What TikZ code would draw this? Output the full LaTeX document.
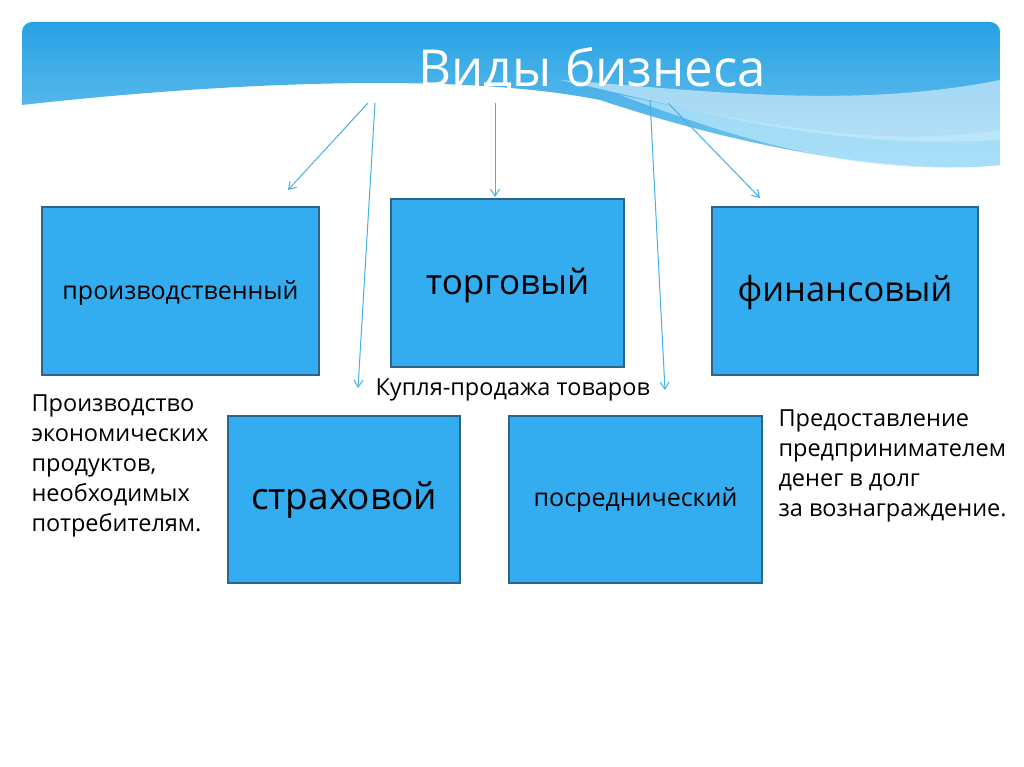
\documentclass[tikz,border=0pt]{standalone}
\usepackage{fontspec}
\usetikzlibrary{arrows.meta}
\setmainfont{Open Sans}
\definecolor{boxf}{RGB}{51,172,240}
\definecolor{boxd}{RGB}{45,100,135}
\definecolor{ban}{RGB}{38,162,228}
\definecolor{arc}{RGB}{70,175,230}
\begin{document}
\begin{tikzpicture}[x=1pt,y=-1pt,
 bx/.style={draw=boxd,line width=1.2pt,fill=boxf},
 ar/.style={draw=arc,line width=1pt,-{Straight Barb[length=7pt,width=9pt]}},
 tx/.style={anchor=west,font=\fontsize{23.5}{30}\selectfont,align=left}]
\useasboundingbox (0,0) rectangle (1024,767);
\fill[white] (0,0) rectangle (1024,767);
% banner
\shade[top color=ban,bottom color=ban!60!white] (22,32) arc(180:270:10) -- (990,22) arc(270:360:10) -- (1000,165)
  .. controls (900,175) and (750,150) .. (600,100) .. controls (450,70) and (200,85) .. (22,105) -- cycle;
\fill[white,opacity=0.5] (1000,80) .. controls (850,110) and (700,90) .. (560,80)
  .. controls (700,110) and (820,150) .. (1000,140) -- cycle;
\fill[cyan!25!white,opacity=0.7] (1000,130) .. controls (870,150) and (740,120) .. (620,95)
  .. controls (740,140) and (860,178) .. (1000,165) -- cycle;
\node[text=white,font=\fontsize{51}{56}\selectfont] (t) at (592,72) {Виды бизнеса};
\node[bx,minimum width=277,minimum height=168] (b1) at (180.5,291) {};
\node[font=\fontsize{25}{28}\selectfont] at (180.5,293) {производственный};
\node[bx,minimum width=233,minimum height=168] (b2) at (507.5,283) {};
\node[font=\fontsize{35}{38}\selectfont] at (507.5,285) {торговый};
\node[bx,minimum width=266,minimum height=168] (b3) at (845,291) {};
\node[font=\fontsize{34.5}{38}\selectfont] at (845,293) {финансовый};
\node[bx,minimum width=232,minimum height=167] (b4) at (344,499.5) {};
\node[font=\fontsize{37}{40}\selectfont] at (344,500) {страховой};
\node[bx,minimum width=253,minimum height=167] (b5) at (635.5,499.5) {};
\node[font=\fontsize{25}{28}\selectfont] at (635.5,500) {посреднический};
\coordinate (s1) at (368,103); \coordinate (s2) at (375,103); \coordinate (s3) at (495,103);
\coordinate (s4) at (650,100); \coordinate (s5) at (668,103);
\coordinate (e1) at (288,190); \coordinate (e2) at (358,388); \coordinate (e3) at (495,197);
\coordinate (e4) at (665,390); \coordinate (e5) at (760,198);
\foreach \i in {1,...,5} \draw[ar] (s\i) -- (e\i);
\node[tx] (k) at (372,390) {Купля-продажа товаров};
\node[tx,anchor=north west] (l) at (28,391) {Производство\\экономических\\продуктов,\\необходимых\\потребителям.};
\node[tx,anchor=north west] (r) at (775,406) {Предоставление\\предпринимателем\\денег в долг\\за вознаграждение.};
\end{tikzpicture}
\end{document}
